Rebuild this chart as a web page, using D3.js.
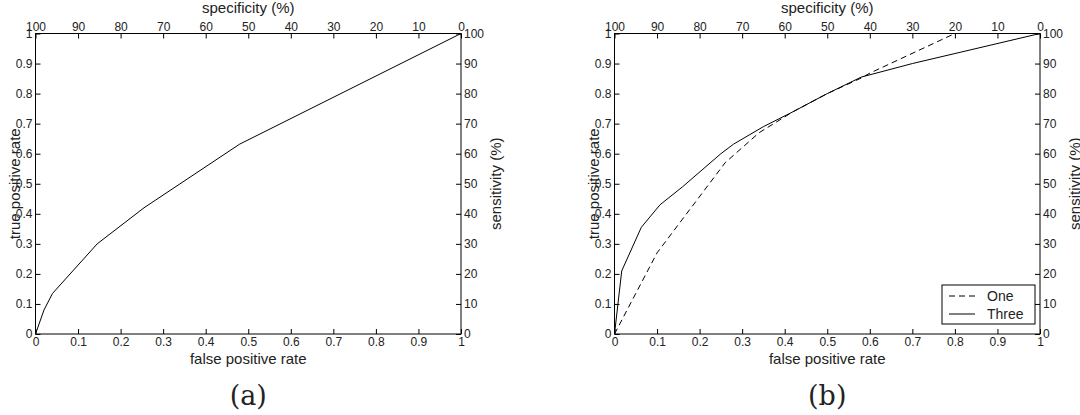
<!DOCTYPE html>
<html><head><meta charset="utf-8">
<script src="https://cdn.jsdelivr.net/npm/d3@7"></script>
<style>body{margin:0;background:#fff}text{font-family:"Liberation Sans",Arial,sans-serif}</style>
</head><body>
<svg id="chart" width="1080" height="415"></svg>
<script>
// curve (a)
var rocA = [[0,0],[0.02,0.08],[0.04,0.135],[0.145,0.30],[0.255,0.42],[0.48,0.632],[1,1]];
// curves (b)
var rocOne = [[0,0],[0.1,0.27],[0.18,0.42],[0.26,0.57],[0.34,0.67],[0.42,0.74],[0.5,0.80],[0.58,0.852],[0.6,0.868],[0.8,1.0]];
var rocThree = [[0,0],[0.017,0.21],[0.063,0.355],[0.107,0.43],[0.16,0.49],[0.25,0.60],[0.28,0.632],[0.35,0.69],[0.42,0.74],[0.5,0.80],[0.58,0.855],[0.7,0.90],[1,1]];
var rateTicks = d3.range(0, 1.01, 0.1);
var pctTicks = d3.range(0, 101, 10);

var svg = d3.select("#chart");

function panel(left, label, series) {
  var x = d3.scaleLinear().domain([0, 1]).range([left, left + 425.5]);
  var y = d3.scaleLinear().domain([0, 1]).range([334, 33.5]);
  var spec = d3.scaleLinear().domain([100, 0]).range(x.range());
  var sens = d3.scaleLinear().domain([0, 100]).range(y.range());
  var g = svg.append("g");
  var fmt = function (d) { return d3.format("~g")(+d.toFixed(1)); };

  function style(a) {
    a.selectAll("text").attr("font-size", 12).attr("fill", "#222");
    a.select(".domain").remove();
    a.selectAll("line").attr("stroke", "#000");
  }
  g.append("g").attr("transform", "translate(0,334)")
    .call(d3.axisBottom(x).tickValues(rateTicks).tickFormat(fmt).tickSizeInner(-5).tickPadding(3)).call(style);
  g.append("g").attr("transform", "translate(" + x(0) + ",0)")
    .call(d3.axisLeft(y).tickValues(rateTicks).tickFormat(fmt).tickSizeInner(-5).tickPadding(3)).call(style);
  g.append("g").attr("transform", "translate(0,33.5)")
    .call(d3.axisTop(spec).tickValues(pctTicks).tickSizeInner(-5).tickPadding(3)).call(style);
  g.append("g").attr("transform", "translate(" + x(1) + ",0)")
    .call(d3.axisRight(sens).tickValues(pctTicks).tickSizeInner(-5).tickPadding(3)).call(style);

  g.append("rect").attr("x", x(0)).attr("y", y(1)).attr("width", x(1) - x(0)).attr("height", y(0) - y(1))
    .attr("fill", "none").attr("stroke", "#000").attr("stroke-width", 1);

  var line = d3.line().x(function (d) { return x(d[0]); }).y(function (d) { return y(d[1]); });
  series.forEach(function (s) {
    g.append("path").datum(s.data).attr("d", line).attr("fill", "none")
      .attr("stroke", "#000").attr("stroke-width", 1).attr("stroke-dasharray", s.dash || null);
  });

  var cx = (x(0) + x(1)) / 2;
  g.append("text").attr("x", cx).attr("y", 364).attr("text-anchor", "middle").attr("font-size", 15).attr("fill", "#222").text("false positive rate");
  g.append("text").attr("x", cx).attr("y", 13).attr("text-anchor", "middle").attr("font-size", 15).attr("fill", "#222").text("specificity (%)");
  g.append("text").attr("transform", "translate(" + (x(0) - 16) + "," + ((y(0) + y(1)) / 2) + ") rotate(-90)")
    .attr("text-anchor", "middle").attr("font-size", 15).attr("fill", "#222").text("true positive rate");
  g.append("text").attr("transform", "translate(" + (x(1) + 40) + "," + ((y(0) + y(1)) / 2) + ") rotate(-90)")
    .attr("text-anchor", "middle").attr("font-size", 15).attr("fill", "#222").text("sensitivity (%)");
  g.append("text").attr("x", cx).attr("y", 405).attr("text-anchor", "middle")
    .style("font-family", "'DejaVu Serif', 'Liberation Serif', serif").attr("font-size", 27).attr("fill", "#222").text(label);
  return { x: x, y: y, g: g };
}

panel(35.5, "(a)", [{ data: rocA }]);
var pb = panel(614.5, "(b)", [{ data: rocOne, dash: "6,4" }, { data: rocThree }]);

// legend
var lg = pb.g.append("g").attr("transform", "translate(942,285)");
lg.append("rect").attr("width", 93).attr("height", 39).attr("fill", "#fff").attr("stroke", "#000");
[["One", "6,4"], ["Three", null]].forEach(function (d, i) {
  var yy = 11 + i * 18;
  lg.append("line").attr("x1", 7).attr("x2", 33).attr("y1", yy).attr("y2", yy)
    .attr("stroke", "#000").attr("stroke-dasharray", d[1]);
  lg.append("text").attr("x", 45).attr("y", yy + 5).attr("font-size", 14).attr("fill", "#222").text(d[0]);
});
</script>
</body></html>
